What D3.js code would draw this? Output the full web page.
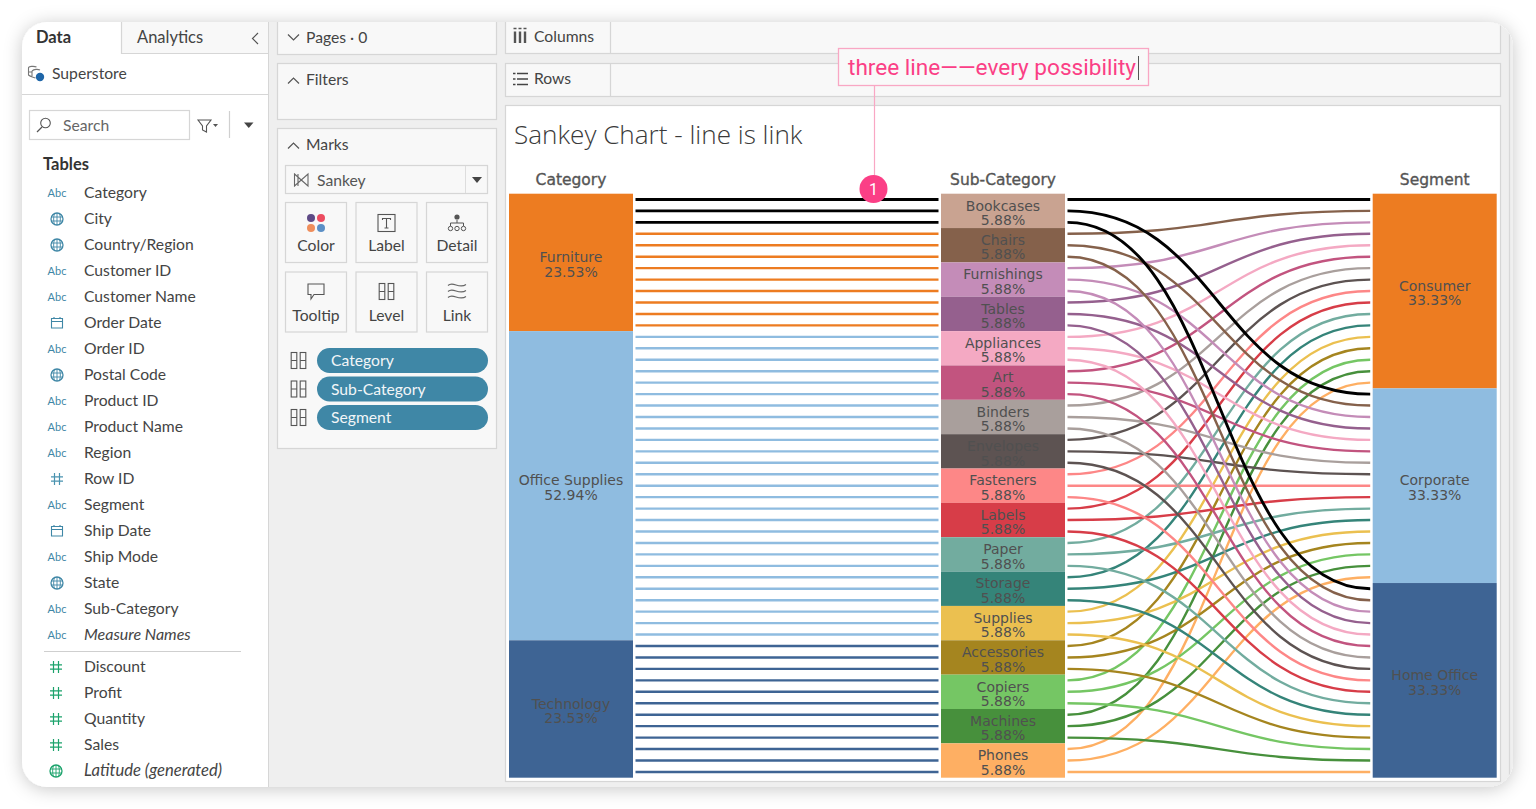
<!DOCTYPE html>
<html>
<head>
<meta charset="utf-8">
<title>Sankey Chart - line is link</title>
<script src="https://cdn.jsdelivr.net/npm/d3@7"></script>
<style>
  html, body { margin: 0; padding: 0; background: #fff; overflow: hidden; }
  svg { display: block; }
  text { font-family: Lato, "Noto Sans", sans-serif; }
  .chartText { font-family: "DejaVu Sans", sans-serif; }
</style>
</head>
<body>
<div id="chart"></div>
<script>
// values
const categories = ['Furniture', 'Office Supplies', 'Technology'];
const categoryLinks = [12, 27, 12];
const categoryLabels = ['23.53%', '52.94%', '23.53%'];
const categoryColors = ['#ED7C21', '#8FBCE0', '#3E6494'];

const subCategories = ['Bookcases', 'Chairs', 'Furnishings', 'Tables', 'Appliances', 'Art', 'Binders', 'Envelopes', 'Fasteners', 'Labels', 'Paper', 'Storage', 'Supplies', 'Accessories', 'Copiers', 'Machines', 'Phones'];
const subCategoryParent = [0, 0, 0, 0, 1, 1, 1, 1, 1, 1, 1, 1, 1, 2, 2, 2, 2];
const subCategoryLabels = ['5.88%', '5.88%', '5.88%', '5.88%', '5.88%', '5.88%', '5.88%', '5.88%', '5.88%', '5.88%', '5.88%', '5.88%', '5.88%', '5.88%', '5.88%', '5.88%', '5.88%'];
const subCategoryColors = ['#C9A391', '#85614B', '#C48CB8', '#95608E', '#F4A9C3', '#C2547F', '#A99F9C', '#5D5352', '#FD8787', '#D73D48', '#72AC9F', '#358479', '#EBC050', '#A5851F', '#75C664', '#47903C', '#FEAF63'];

const segments = ['Consumer', 'Corporate', 'Home Office'];
const segmentLinks = [17, 17, 17];
const segmentLabels = ['33.33%', '33.33%', '33.33%'];
const segmentColors = ['#ED7C21', '#8FBCE0', '#3E6494'];

const highlighted = 'Bookcases';
const highlightColor = '#000000';

const dimensionFields = [
  ['abc', 'Category'], ['globe', 'City'], ['globe', 'Country/Region'], ['abc', 'Customer ID'],
  ['abc', 'Customer Name'], ['cal', 'Order Date'], ['abc', 'Order ID'], ['globe', 'Postal Code'],
  ['abc', 'Product ID'], ['abc', 'Product Name'], ['abc', 'Region'], ['hash', 'Row ID'],
  ['abc', 'Segment'], ['cal', 'Ship Date'], ['abc', 'Ship Mode'], ['globe', 'State'],
  ['abc', 'Sub-Category'], ['abc', 'Measure Names']
];
const measureFields = [
  ['hash', 'Discount'], ['hash', 'Profit'], ['hash', 'Quantity'], ['hash', 'Sales'], ['globe', 'Latitude (generated)']
];
const levelFields = ['Category', 'Sub-Category', 'Segment'];
const markCards = ['Color', 'Label', 'Detail', 'Tooltip', 'Level', 'Link'];

const w = 1536;
const h = 809;
const uiGray = '#444';
const shelfFill = '#F8F8F8';
const shelfLine = '#D6D6D6';
const blue = '#3F87A6';
const green = '#1CA36C';
const pink = '#FB3F86';

const svg = d3.select('#chart').append('svg').attr('width', w).attr('height', h);
const defs = svg.append('defs');
const shadow = defs.append('filter').attr('id', 'shadow')
  .attr('x', '-5%').attr('y', '-5%').attr('width', '110%').attr('height', '110%');
shadow.append('feDropShadow').attr('dx', 0).attr('dy', 2).attr('stdDeviation', 9)
  .attr('flood-color', '#000').attr('flood-opacity', 0.22);
defs.append('clipPath').attr('id', 'windowClip').append('rect')
  .attr('x', 22).attr('y', 22).attr('width', 1491).attr('height', 765).attr('rx', 25);

svg.append('rect').attr('x', 22).attr('y', 22).attr('width', 1491).attr('height', 765).attr('rx', 25)
  .attr('fill', '#EFEFEF').attr('filter', 'url(#shadow)');

const win = svg.append('g').attr('clip-path', 'url(#windowClip)');

function box(g, x, y, width, height, fill) {
  return g.append('rect').attr('x', x + 0.5).attr('y', y + 0.5).attr('width', width).attr('height', height)
    .attr('fill', fill || shelfFill).attr('stroke', shelfLine).attr('stroke-width', 1.2);
}
function label(g, x, y, str, size, color) {
  return g.append('text').attr('x', x).attr('y', y).attr('font-size', size).attr('fill', color || uiGray).text(str);
}
function stroke(g, d, color, width) {
  return g.append('path').attr('d', d).attr('fill', 'none').attr('stroke', color).attr('stroke-width', width || 1.2);
}

// left data pane
win.append('rect').attr('x', 22).attr('y', 22).attr('width', 246).attr('height', 765).attr('fill', '#fff');
win.append('line').attr('x1', 268.5).attr('x2', 268.5).attr('y1', 22).attr('y2', 787).attr('stroke', shelfLine);
win.append('rect').attr('x', 122).attr('y', 22).attr('width', 146).attr('height', 32).attr('fill', shelfFill);
stroke(win, 'M121.5,22V53.5H268', shelfLine, 1.2);
label(win, 36, 43, 'Data', 16.5, '#333').attr('font-weight', 700);
label(win, 137, 43, 'Analytics', 16.5);
stroke(win, 'M258,33L252.5,38.5L258,44', '#555', 1.2);

stroke(win, 'M22,94.5H268', shelfLine, 1.2);
stroke(win, 'M28.5,68c0,-2 6,-2 8,-1M28.5,68v7c2,2 5,2 7,3M32,71c2,-2 6,-2 8,-1M32,71v5M28.5,72h4', '#777', 1.1);
win.append('circle').attr('cx', 40).attr('cy', 77).attr('r', 4.2).attr('fill', '#1F66A8');
label(win, 52, 79, 'Superstore', 15.7);

box(win, 29, 110, 160, 29, '#fff');
win.append('circle').attr('cx', 45.5).attr('cy', 123).attr('r', 4.8).attr('fill', 'none').attr('stroke', '#555').attr('stroke-width', 1.1);
stroke(win, 'M42,127L37,132', '#555', 1.3);
label(win, 63, 130.5, 'Search', 15.7, '#666');
stroke(win, 'M198,120H211L206.5,126V132L202.5,130V126Z', '#555', 1.1);
win.append('path').attr('d', 'M213,124h5l-2.5,3z').attr('fill', '#555');
stroke(win, 'M229.5,111V138', '#D0D0D0', 1.2);
win.append('path').attr('d', 'M244,122.5h9.5l-4.75,5.5z').attr('fill', '#444');

label(win, 43, 170, 'Tables', 16.5, '#333').attr('font-weight', 700);

function fieldIcon(kind, cx, cy, color) {
  const g = win.append('g').attr('transform', 'translate(' + cx + ',' + cy + ')');
  if (kind === 'abc') {
    g.append('text').attr('text-anchor', 'middle').attr('y', 3.5).attr('font-size', 11).attr('fill', color).text('Abc');
  } else if (kind === 'globe') {
    g.append('circle').attr('r', 6).attr('fill', 'none').attr('stroke', color).attr('stroke-width', 1.3);
    stroke(g, 'M-6,-2H6M-6,2H6M0,-6V6M-2.6,-5.4C-3.6,-2 -3.6,2 -2.6,5.4M2.6,-5.4C3.6,-2 3.6,2 2.6,5.4', color, 0.9);
  } else if (kind === 'cal') {
    stroke(g, 'M-5.5,-4.5H5.5V5H-5.5ZM-5.5,-1.5H5.5M-3,-6V-4M3,-6V-4', color, 1.1);
  } else {
    stroke(g, 'M-2.5,-6V6M2.5,-6V6M-6,-2.2H6M-6,2.2H6', color, 1.2);
  }
}

dimensionFields.forEach((f, i) => {
  const y = 193 + i * 26;
  fieldIcon(f[0], 57, y, f[0] === 'hash' ? '#4A93B0' : blue);
  label(win, 84, y + 5.3, f[1], f[1] === 'Measure Names' ? 16 : 15.7).attr('font-style', f[1] === 'Measure Names' ? 'italic' : null);
});
stroke(win, 'M44,651.5H241', '#CFCFCF', 1.2);
measureFields.forEach((f, i) => {
  const y = 667 + i * 26;
  fieldIcon(f[0], 56, y, green);
  label(win, 84, y + 5.3, f[1], f[0] === 'globe' ? 16.6 : 15.7).attr('font-style', f[0] === 'globe' ? 'italic' : null);
});

// middle cards
box(win, 277, 14, 219, 40);
stroke(win, 'M288,34.5L293.5,40L299,34.5', '#555', 1.2);
label(win, 306, 43, 'Pages \u00B7 0', 15.7);

box(win, 277, 63, 219, 56);
stroke(win, 'M288,83.5L293.5,78L299,83.5', '#555', 1.2);
label(win, 306, 85, 'Filters', 15.7);

box(win, 277, 128, 219, 320);
stroke(win, 'M288,148.5L293.5,143L299,148.5', '#555', 1.2);
label(win, 306, 150, 'Marks', 15.7);

box(win, 285, 165, 202, 28, '#F8F8F8');
stroke(win, 'M465.5,166V193', '#DDD', 1);
stroke(win, 'M294.5,174L308,186V174L294.5,186ZM298,174V186', '#666', 1.1);
label(win, 317, 186, 'Sankey', 15.7, '#555');
win.append('path').attr('d', 'M472,177h10l-5,6z').attr('fill', '#444');

function cardIcon(name, g, cx, cy) {
  if (name === 'Color') {
    [[-5, -5, '#5E4A86'], [5, -5, '#EC4C60'], [-5, 5, '#EF8E5C'], [5, 5, '#5B8FC6']].forEach((d) => {
      g.append('circle').attr('cx', cx + d[0]).attr('cy', cy + d[1]).attr('r', 4).attr('fill', d[2]);
    });
  } else if (name === 'Label') {
    g.append('rect').attr('x', cx - 8.5).attr('y', cy - 8.5).attr('width', 17).attr('height', 17).attr('fill', 'none').attr('stroke', '#555').attr('stroke-width', 1.1);
    stroke(g, 'M' + (cx - 4) + ',' + (cy - 3) + 'V' + (cy - 4.5) + 'H' + (cx + 4) + 'V' + (cy - 3) + 'M' + cx + ',' + (cy - 4.5) + 'V' + (cy + 5) + 'M' + (cx - 2) + ',' + (cy + 5) + 'H' + (cx + 2), '#555', 1.1);
  } else if (name === 'Detail') {
    g.append('circle').attr('cx', cx).attr('cy', cy - 6).attr('r', 2.6).attr('fill', '#555');
    stroke(g, 'M' + cx + ',' + (cy - 3) + 'V' + cy + 'M' + (cx - 6.5) + ',' + (cy + 3) + 'V' + cy + 'H' + (cx + 6.5) + 'V' + (cy + 3), '#555', 1);
    [-6.5, 0, 6.5].forEach((d) => {
      g.append('circle').attr('cx', cx + d).attr('cy', cy + 5.5).attr('r', 2.2).attr('fill', 'none').attr('stroke', '#555');
    });
  } else if (name === 'Tooltip') {
    stroke(g, 'M' + (cx - 8) + ',' + (cy - 7.5) + 'H' + (cx + 8) + 'V' + (cy + 3) + 'H' + (cx - 2) + 'L' + (cx - 5) + ',' + (cy + 7.5) + 'V' + (cy + 3) + 'H' + (cx - 8) + 'Z', '#555', 1.1);
  } else if (name === 'Level') {
    levelIcon(g, cx, cy);
  } else {
    [-6, 0, 6].forEach((d) => {
      const y = cy + d;
      stroke(g, 'M' + (cx - 9) + ',' + y + 'C' + (cx - 4) + ',' + (y - 5) + ' ' + (cx + 2) + ',' + (y + 4) + ' ' + (cx + 9) + ',' + (y - 1), '#666', 1.1);
    });
  }
}
function levelIcon(g, cx, cy) {
  [-4.5, 4.5].forEach((d) => {
    g.append('rect').attr('x', cx + d - 2.8).attr('y', cy - 8).attr('width', 5.6).attr('height', 16).attr('fill', 'none').attr('stroke', '#555').attr('stroke-width', 1.1);
    stroke(g, 'M' + (cx + d - 2.8) + ',' + cy + 'H' + (cx + d + 2.8), '#555', 1);
  });
}

markCards.forEach((name, i) => {
  const x = 285 + (i % 3) * 70.5;
  const y = 202 + Math.floor(i / 3) * 69.5;
  box(win, x, y, 61, 60);
  cardIcon(name, win, x + 31, y + (i < 3 ? 21 : 20));
  label(win, x + 31, y + 49, name, 15.7).attr('text-anchor', 'middle');
});

levelFields.forEach((name, i) => {
  const y = 360.5 + i * 28.5;
  levelIcon(win, 298.5, y);
  win.append('rect').attr('x', 317).attr('y', y - 12.5).attr('width', 171).attr('height', 25).attr('rx', 12.5).attr('fill', blue);
  label(win, 331, y + 5.5, name, 15.7, '#F2F6F8');
});

// columns / rows shelves
box(win, 505, 14, 995, 39);
stroke(win, 'M610.5,14V53', shelfLine, 1.2);
stroke(win, 'M515,31.5V43M520,31.5V43M525,31.5V43', '#555', 2.4);
stroke(win, 'M513.5,28.5h3M518.5,28.5h3M523.5,28.5h3', '#555', 1.6);
label(win, 534, 42, 'Columns', 15.7);

box(win, 505, 63, 995, 33);
stroke(win, 'M610.5,63V96', shelfLine, 1.2);
stroke(win, 'M517,73.5H528M517,79H528M517,84.5H528', '#444', 1.7);
stroke(win, 'M513,73.5H515.5M513,79H515.5M513,84.5H515.5', '#444', 1.7);
label(win, 534, 84, 'Rows', 15.7);

// right window edge
stroke(win, 'M1509.5,22V787', '#D8D8D8', 1.2);

// view
box(win, 505, 105, 995, 676, '#fff');
label(win, 514, 144, 'Sankey Chart - line is link', 26.1, '#3A3A3A')
  .attr('font-weight', 300).style('font-family', '"Open Sans", sans-serif');

const linkRows = d3.cross(subCategories, segments, (s, t) => ({ sub: s, seg: t }));
const total = linkRows.length;

const y = d3.scaleLinear().domain([0, total]).range([193.7, 777.7]);
const x = d3.scaleOrdinal().domain(['left', 'sub', 'right']).range([571, 1003, 1434.7]);

const barWidth = 124;
const linkGap = 2.5;

// rank of each record on either side of a gap
const leftRank = new Map(d3.sort(linkRows, (a, b) => d3.ascending(subCategories.indexOf(a.sub), subCategories.indexOf(b.sub)) || d3.ascending(segments.indexOf(a.seg), segments.indexOf(b.seg))).map((d, i) => [d, i]));
const rightRank = new Map(d3.sort(linkRows, (a, b) => d3.ascending(segments.indexOf(a.seg), segments.indexOf(b.seg)) || d3.ascending(subCategories.indexOf(a.sub), subCategories.indexOf(b.sub))).map((d, i) => [d, i]));

const leftEdge = x('left') + barWidth / 2 + linkGap;
const midLeft = x('sub') - barWidth / 2 - linkGap;
const midRight = x('sub') + barWidth / 2 + linkGap;
const rightEdge = x('right') - barWidth / 2 - linkGap;

const linkColor = (d) => d.sub === highlighted ? highlightColor : subCategoryColors[subCategories.indexOf(d.sub)];
const leftColor = (d) => d.sub === highlighted ? highlightColor : categoryColors[subCategoryParent[subCategories.indexOf(d.sub)]];
const linkWidth = (d) => d.sub === highlighted ? 2.9 : 2.4;

const link = d3.linkHorizontal().x((p) => p[0]).y((p) => p[1]);

const drawOrder = linkRows.slice().reverse();

svg.append('g').attr('id', 'category-links').selectAll('line')
  .data(drawOrder)
  .enter()
  .append('line')
  .attr('x1', leftEdge)
  .attr('x2', midLeft)
  .attr('y1', (d) => y(leftRank.get(d) + 0.5))
  .attr('y2', (d) => y(leftRank.get(d) + 0.5))
  .attr('stroke', leftColor)
  .attr('stroke-width', linkWidth);

svg.append('g').attr('id', 'segment-links').selectAll('path')
  .data(drawOrder)
  .enter()
  .append('path')
  .attr('d', (d) => link({
    source: [midRight, y(leftRank.get(d) + 0.5)],
    target: [rightEdge, y(rightRank.get(d) + 0.5)]
  }))
  .attr('fill', 'none')
  .attr('stroke', linkColor)
  .attr('stroke-width', linkWidth);

function drawNodes(id, cx, names, sizes, colors, labels) {
  const g = svg.append('g').attr('id', id);
  const starts = d3.cumsum([0].concat(sizes));
  names.forEach((name, i) => {
    const top = y(starts[i]);
    const bottom = y(starts[i + 1]);
    const mid = (top + bottom) / 2;
    g.append('rect')
      .attr('x', cx - barWidth / 2)
      .attr('y', top)
      .attr('width', barWidth)
      .attr('height', bottom - top)
      .attr('fill', colors[i]);
    g.append('text').attr('class', 'chartText').attr('x', cx).attr('y', mid - 0.3)
      .attr('text-anchor', 'middle').attr('font-size', 14).attr('fill', '#505050').text(name);
    g.append('text').attr('class', 'chartText').attr('x', cx).attr('y', mid + 14.2)
      .attr('text-anchor', 'middle').attr('font-size', 14).attr('fill', '#505050').text(labels[i]);
  });
}

drawNodes('category-nodes', x('left'), categories, categoryLinks, categoryColors, categoryLabels);
drawNodes('subcategory-nodes', x('sub'), subCategories, subCategories.map(() => 3), subCategoryColors, subCategoryLabels);
drawNodes('segment-nodes', x('right'), segments, segmentLinks, segmentColors, segmentLabels);

[['Category', x('left')], ['Sub-Category', x('sub')], ['Segment', x('right')]].forEach((d) => {
  svg.append('text').attr('class', 'chartText').attr('x', d[1]).attr('y', 185)
    .attr('text-anchor', 'middle').attr('font-size', 15.5).attr('fill', '#555')
    .attr('stroke', '#555').attr('stroke-width', 0.35).text(d[0]);
});

// annotation
const note = svg.append('g').attr('id', 'annotation');
note.append('line').attr('x1', 874.5).attr('x2', 874.5).attr('y1', 85).attr('y2', 178).attr('stroke', '#F9A7C4').attr('stroke-width', 1.2);
note.append('rect').attr('x', 838.5).attr('y', 48.5).attr('width', 310).attr('height', 37)
  .attr('fill', '#F9F9F9').attr('stroke', '#F9A7C4').attr('stroke-width', 1.3);
note.append('text').attr('x', 848).attr('y', 75).attr('font-size', 22.6).attr('fill', pink)
  .style('font-family', 'Roboto, sans-serif').text('three line\u2014\u2014every possibility');
note.append('line').attr('x1', 1138.5).attr('x2', 1138.5).attr('y1', 56).attr('y2', 80).attr('stroke', '#555').attr('stroke-width', 1);
note.append('circle').attr('cx', 873.5).attr('cy', 189).attr('r', 14).attr('fill', pink);
note.append('text').attr('x', 873.5).attr('y', 195).attr('text-anchor', 'middle').attr('font-size', 16)
  .attr('fill', '#fff').style('font-family', 'Roboto, sans-serif').text('1');
</script>
</body>
</html>
